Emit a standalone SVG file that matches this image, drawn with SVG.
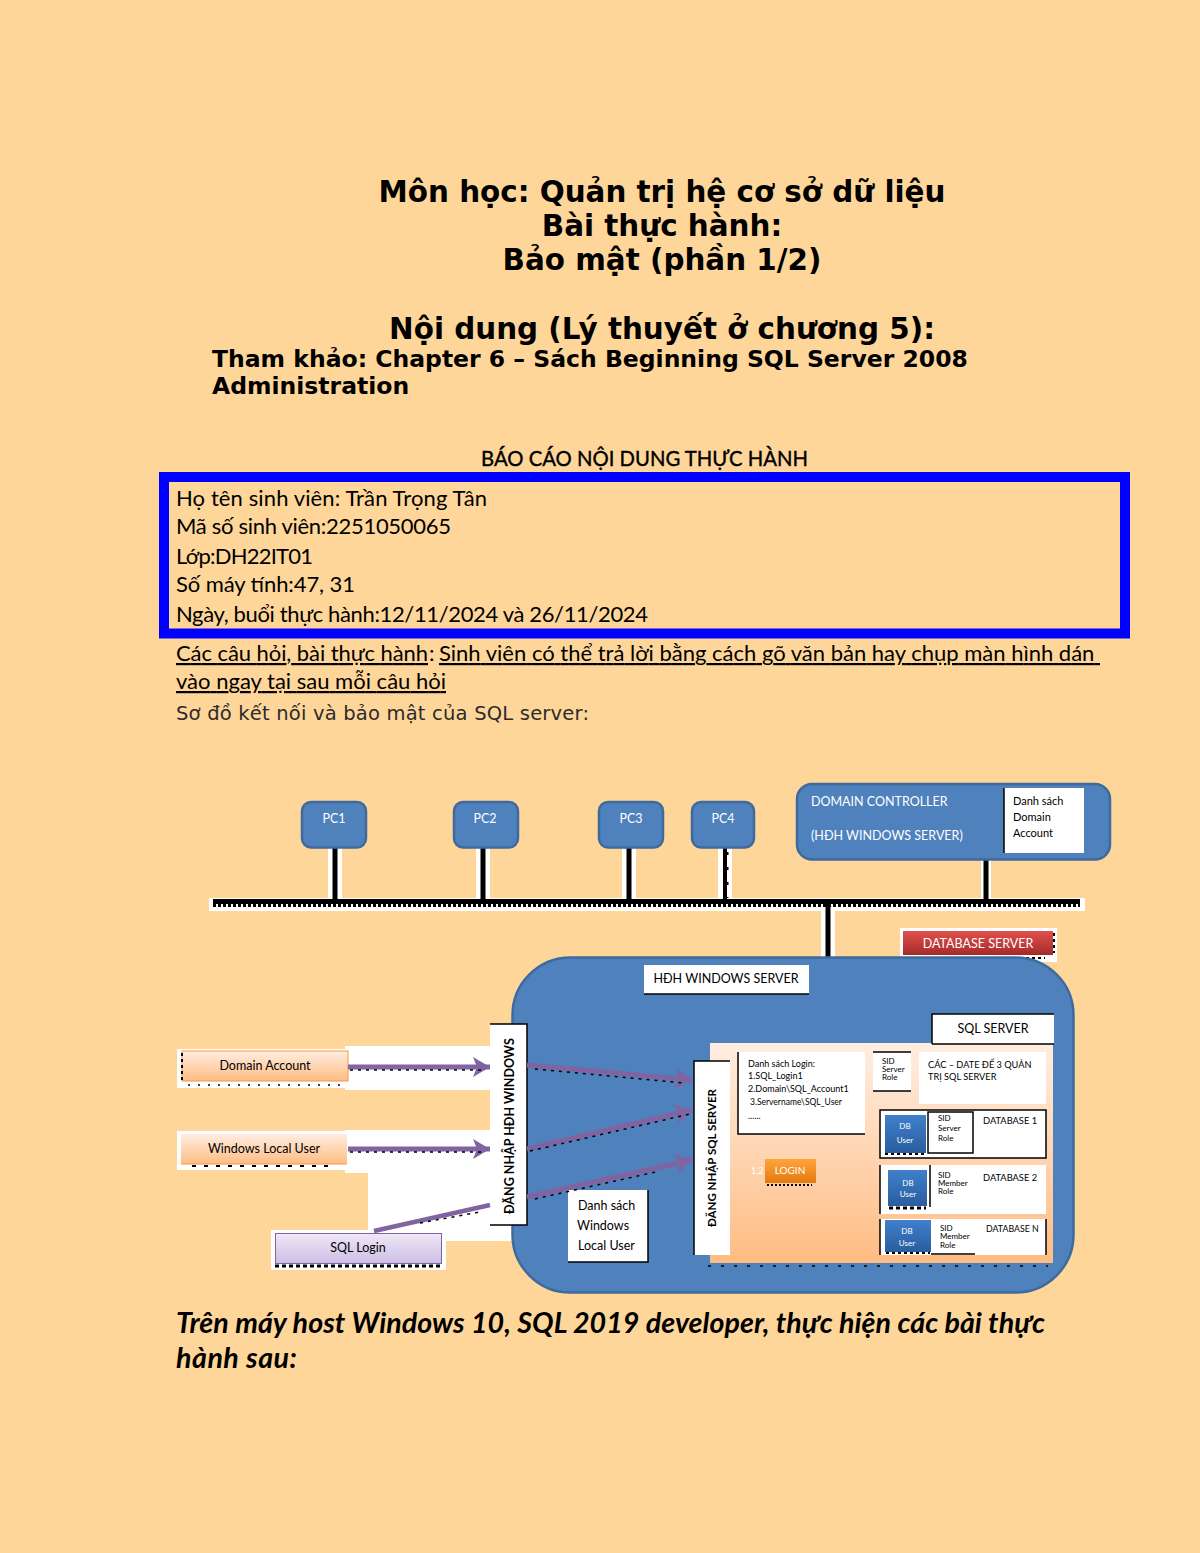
<svg xmlns="http://www.w3.org/2000/svg" width="1200" height="1553" viewBox="0 0 1200 1553">
<style>
text{font-family:"Lato","Liberation Sans",sans-serif;fill:#000}
.t{font-family:"DejaVu Sans",sans-serif;font-weight:700;font-size:29.4px}
.t2{font-family:"DejaVu Sans",sans-serif;font-weight:700;font-size:23.5px}
.b{font-size:22px}
.u{text-decoration:underline;text-decoration-thickness:2px}
.n{fill:#4F81BD;stroke:#3E6A9E;stroke-width:2.5}
.w{fill:#fff}
.wl{fill:#fff;font-size:12.5px}
.k{font-size:12.5px}
.s{font-size:8px}
.c{text-anchor:middle}
.halo{stroke:#fff;stroke-width:14;fill:none}
.wire{stroke:#000;stroke-width:5;fill:none}
.dot{stroke:#000;stroke-width:2;stroke-dasharray:3 3;fill:none}
.arr{stroke:#8064A2;stroke-width:5;fill:none;marker-end:url(#h)}
.edge{stroke:#000;stroke-width:1.5;fill:none}
</style>
<defs>
<marker id="h" markerUnits="userSpaceOnUse" markerWidth="18" markerHeight="20" refX="17" refY="10" orient="auto"><path d="M0 0L17 10L0 20L4 10Z" fill="#8064A2"/></marker>
<linearGradient id="or" x1="0" y1="0" x2="0" y2="1"><stop offset="0" stop-color="#FFEEE2"/><stop offset="1" stop-color="#FFBC82"/></linearGradient>
<linearGradient id="pu" x1="0" y1="0" x2="0" y2="1"><stop offset="0" stop-color="#EFE9F6"/><stop offset="1" stop-color="#CDBDE4"/></linearGradient>
<linearGradient id="rd" x1="0" y1="0" x2="0" y2="1"><stop offset="0" stop-color="#E0504D"/><stop offset="1" stop-color="#A52A28"/></linearGradient>
<linearGradient id="og" x1="0" y1="0" x2="0" y2="1"><stop offset="0" stop-color="#FFA53C"/><stop offset="1" stop-color="#E17A10"/></linearGradient>
<linearGradient id="bl" x1="0" y1="0" x2="0" y2="1"><stop offset="0" stop-color="#3F80CC"/><stop offset="1" stop-color="#2A5D9E"/></linearGradient>
</defs>
<rect width="1200" height="1553" fill="#FFD699"/>

<g id="heading">
<text class="t c" x="662" y="202">Môn học: Quản trị hệ cơ sở dữ liệu</text>
<text class="t c" x="662" y="236">Bài thực hành:</text>
<text class="t c" x="662" y="270">Bảo mật (phần 1/2)</text>
<text class="t c" x="662" y="339">Nội dung (Lý thuyết ở chương 5):</text>
<text class="t2" x="212" y="367">Tham khảo: Chapter 6 – Sách Beginning SQL Server 2008</text>
<text class="t2" x="212" y="394">Administration</text>
<text x="481" y="466" font-size="22" stroke="#000" stroke-width="0.4" textLength="327" lengthAdjust="spacingAndGlyphs">BÁO CÁO NỘI DUNG THỰC HÀNH</text>
</g>

<g id="student-box">
<rect x="164" y="477" width="961" height="156.500" fill="none" stroke="#0000FF" stroke-width="10"/>
<text class="b" x="176" y="506" textLength="311">Họ tên sinh viên: Trần Trọng Tân</text>
<text class="b" x="176" y="534" textLength="275">Mã số sinh viên:2251050065</text>
<text class="b" x="176" y="564" textLength="137">Lớp:DH22IT01</text>
<text class="b" x="176" y="592" textLength="179">Số máy tính:47, 31</text>
<text class="b" x="176" y="622" textLength="472">Ngày, buổi thực hành:12/11/2024 và 26/11/2024</text>
</g>

<g id="intro">
<text class="b u" x="176" y="661" textLength="252">Các câu hỏi, bài thực hành</text>
<text class="b" x="429" y="661">:</text>
<text class="b u" x="439" y="661" textLength="661">Sinh viên có thể trả lời bằng cách gõ văn bản hay chụp màn hình dán&#160;</text>
<text class="b u" x="176" y="689" textLength="270">vào ngay tại sau mỗi câu hỏi</text>
<text x="176" y="720" style="font-family:'DejaVu Sans',sans-serif;font-size:19.500px;fill:#2b2b2b" textLength="413">Sơ đồ kết nối và bảo mật của SQL server:</text>
</g>

<g id="connectors">
<path class="halo" d="M335 848V900M483 848V900M629 848V900M725 848V900M828 905V957"/>
<path d="M986 860V900" stroke="#fff" stroke-width="10" fill="none"/>
<rect x="209" y="898" width="876" height="13" fill="#fff"/>
<rect x="213" y="899" width="867" height="5" fill="#000"/>
<path d="M213 905.500H1080" stroke="#000" stroke-width="3" stroke-dasharray="3 2" fill="none"/>
<path class="wire" d="M335 848V900M483 848V900M629 848V900M986 860V900M828 904V957"/>
<path d="M725 848V900" stroke="#000" stroke-width="4" fill="none"/>
<path d="M727 852V898" stroke="#000" stroke-width="3" stroke-dasharray="3 12" fill="none"/>
</g>

<g id="pc1"><rect class="n" x="302" y="802" width="64" height="45.500" rx="9"/><text class="wl c" x="334" y="823">PC1</text></g>
<g id="pc2"><rect class="n" x="454" y="802" width="64" height="45.500" rx="9"/><text class="wl c" x="485" y="823">PC2</text></g>
<g id="pc3"><rect class="n" x="599" y="802" width="64" height="45.500" rx="9"/><text class="wl c" x="631" y="823">PC3</text></g>
<g id="pc4"><rect class="n" x="692" y="802" width="62" height="45.500" rx="9"/><text class="wl c" x="723" y="823">PC4</text></g>

<g id="domain-controller">
<rect class="n" x="797" y="784" width="313" height="75.500" rx="15"/>
<text class="wl" x="811" y="806">DOMAIN CONTROLLER</text>
<text class="wl" x="811" y="840">(HĐH WINDOWS SERVER)</text>
<rect class="w" x="1004" y="788" width="80" height="65"/>
<path class="edge" d="M1004 788V853"/>
<text x="1013" y="805" style="font-size:11px">Danh sách</text>
<text x="1013" y="821" style="font-size:11px">Domain</text>
<text x="1013" y="837" style="font-size:11px">Account</text>
</g>

<g id="left-backdrop">
<rect class="w" x="345" y="1046" width="145" height="44"/>
<rect class="w" x="345" y="1130" width="145" height="43"/>
<rect class="w" x="368" y="1173" width="144" height="68"/>
</g>

<g id="database-server-label">
<rect class="w" x="900" y="928" width="157" height="34"/>
<rect x="903" y="931" width="150" height="24" fill="url(#rd)"/>
<path class="dot" d="M906 958H1045M1054 933V953"/>
<text class="c" x="978" y="948" style="fill:#fff;font-size:12.500px">DATABASE SERVER</text>
</g>

<g id="windows-server">
<rect class="n" x="512.500" y="957.500" width="561" height="335" rx="58"/>
<rect class="w" x="644" y="965" width="165" height="29"/>
<path class="edge" d="M644 994H809"/>
<text class="k c" x="726" y="983">HĐH WINDOWS SERVER</text>
</g>

<g id="sql-panel">
<rect x="710" y="1043" width="343" height="220" fill="url(#or)"/>
<path d="M708 1266H1048" stroke="#000" stroke-width="1.500" stroke-dasharray="3 10" fill="none"/>
</g>

<g id="sql-server-label">
<rect class="w" x="932" y="1014" width="122" height="30"/>
<path class="edge" d="M932 1044V1014H1054M932 1044H1054"/>
<text class="k c" x="993" y="1033">SQL SERVER</text>
</g>

<g id="domain-account">
<rect class="w" x="177" y="1049" width="168" height="39"/>
<rect x="182" y="1051" width="166" height="30" fill="url(#or)" stroke="#F79646"/>
<path class="dot" d="M182 1053V1081"/>
<path d="M188 1085H343" stroke="#000" stroke-width="1.500" stroke-dasharray="2 8" fill="none"/>
<text class="k c" x="265" y="1070">Domain Account</text>
</g>
<g id="windows-local-user">
<rect class="w" x="177" y="1131" width="168" height="39"/>
<rect x="181" y="1134" width="166" height="30" fill="url(#or)"/>
<path d="M181 1164H347" stroke="#F79646" fill="none"/>
<path d="M192 1166H336" stroke="#000" stroke-width="2" stroke-dasharray="4 8" fill="none"/>
<text class="k c" x="264" y="1153">Windows Local User</text>
</g>
<g id="sql-login">
<rect class="w" x="271" y="1230" width="175" height="40"/>
<rect x="275.500" y="1233.500" width="166" height="30" fill="url(#pu)" stroke="#8064A2"/>
<path d="M275 1266H441" stroke="#000" stroke-width="3" stroke-dasharray="4 3" fill="none"/>
<text class="k c" x="358" y="1252">SQL Login</text>
</g>

<g id="login-windows">
<rect class="w" x="490" y="1024" width="37" height="201"/>
<path class="edge" d="M490 1024H527V1225H490"/>
<text transform="translate(514 1214) rotate(-90)" font-weight="700" style="font-size:12.500px">ĐĂNG NHẬP HĐH WINDOWS</text>
</g>
<g id="windows-users">
<rect class="w" x="568" y="1190" width="80" height="72"/>
<path class="edge" d="M648 1190V1262H568"/>
<text class="k" x="578" y="1210">Danh sách</text>
<text class="k" x="577" y="1230">Windows</text>
<text class="k" x="578" y="1250">Local User</text>
</g>
<g id="login-sql">
<rect class="w" x="694" y="1061" width="36" height="194"/>
<path class="edge" d="M730 1061H694V1255"/>
<text transform="translate(716 1227) rotate(-90)" font-weight="700" style="font-size:11.500px">ĐĂNG NHẬP SQL SERVER</text>
</g>
<g id="login-list">
<rect class="w" x="738" y="1052" width="127" height="82"/>
<path class="edge" d="M738 1052V1134H865"/>
<text x="748" y="1067" style="font-size:9px">Danh sách Login:</text>
<text x="748" y="1079" style="font-size:9px">1.SQL_Login1</text>
<text x="748" y="1092" style="font-size:9px">2.Domain\SQL_Account1</text>
<text x="750" y="1105" style="font-size:8.500px">3.Servername\SQL_User</text>
<text x="748" y="1119" style="font-size:9px">......</text>
</g>
<g id="server-role">
<rect class="w" x="873" y="1052" width="38" height="39"/>
<path class="edge" d="M873 1052H911M873 1091H911"/>
<text class="s" x="882" y="1064">SID</text><text class="s" x="882" y="1072">Server</text><text class="s" x="882" y="1080">Role</text>
</g>
<g id="objects-note">
<rect class="w" x="919" y="1052" width="127" height="52"/>
<text x="928" y="1068" style="font-size:9.200px">CÁC – DATE ĐỂ 3 QUẢN</text>
<text x="928" y="1080" style="font-size:9.200px">TRỊ SQL SERVER</text>
</g>
<g id="login-button">
<rect x="765" y="1159" width="51" height="24" fill="url(#og)"/>
<path d="M767 1185H812" stroke="#000" stroke-width="2" stroke-dasharray="2 2" fill="none"/>
<text class="c" x="790" y="1174" style="fill:#fff;font-size:10px">LOGIN</text>
<text x="751" y="1174" style="fill:#fff;font-size:9px">1.2</text>
</g>
<g id="database-1">
<rect class="w" x="880" y="1110" width="166" height="48"/>
<path class="edge" d="M880 1110H1046V1158H880Z"/>
<rect x="885" y="1115" width="41" height="38" fill="url(#bl)"/>
<path class="dot" d="M885 1154H925"/>
<rect x="928" y="1112" width="45" height="41" fill="#fff" stroke="#000" stroke-width="1.500"/>
<text class="s" x="938" y="1121">SID</text><text class="s" x="938" y="1131">Server</text><text class="s" x="938" y="1141">Role</text>
<text class="s c" x="905" y="1129" style="fill:#fff">DB</text><text class="s c" x="905" y="1143" style="fill:#fff">User</text>
<text x="983" y="1124" style="font-size:9.300px">DATABASE 1</text>
</g>
<g id="database-2">
<rect class="w" x="880" y="1165" width="166" height="49"/>
<path class="edge" d="M880 1165V1214M930 1165V1207"/>
<rect x="888" y="1170" width="39" height="36" fill="url(#bl)"/>
<path d="M889 1208H926" stroke="#000" stroke-width="3" stroke-dasharray="4 3" fill="none"/>
<text class="s c" x="908" y="1186" style="fill:#fff">DB</text><text class="s c" x="908" y="1197" style="fill:#fff">User</text>
<text class="s" x="938" y="1178">SID</text><text class="s" x="938" y="1186">Member</text><text class="s" x="938" y="1194">Role</text>
<text x="983" y="1181" style="font-size:9.300px">DATABASE 2</text>
</g>
<g id="database-3">
<rect class="w" x="880" y="1219" width="166" height="36"/>
<path class="edge" d="M880 1219V1255M1046 1219V1255M931 1254H975"/>
<rect x="885" y="1220" width="46" height="32" fill="url(#bl)"/>
<path class="dot" d="M886 1253H930"/>
<text class="s c" x="907" y="1234" style="fill:#fff">DB</text><text class="s c" x="907" y="1246" style="fill:#fff">User</text>
<text class="s" x="940" y="1231">SID</text><text class="s" x="940" y="1239">Member</text><text class="s" x="940" y="1248">Role</text>
<text x="986" y="1232" style="font-size:8.800px">DATABASE N</text>
</g>

<g id="arrows">
<path class="arr" d="M348 1067H490"/>
<path class="arr" d="M348 1149H490"/>
<path d="M374 1231L490 1205" stroke="#8064A2" stroke-width="4.500" fill="none"/>
<path class="arr" d="M527 1065L692 1080"/>
<path class="arr" d="M527 1149L692 1110"/>
<path class="arr" d="M527 1197L692 1160"/>
<path d="M350 1070H482M350 1152H482M535 1069L685 1083M530 1151L690 1114M535 1199L660 1171M420 1223L480 1212" stroke="#000" stroke-width="1.500" stroke-dasharray="3 5" fill="none"/>
</g>

<g id="closing">
<text x="176" y="1333" font-size="28.600" font-weight="700" font-style="italic" textLength="869">Trên máy host Windows 10, SQL 2019 developer, thực hiện các bài thực</text>
<text x="176" y="1368" font-size="28.600" font-weight="700" font-style="italic" textLength="121">hành sau:</text>
</g>
</svg>
